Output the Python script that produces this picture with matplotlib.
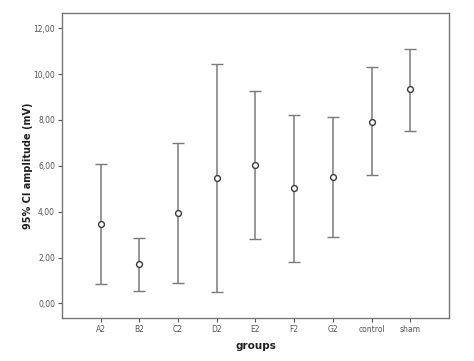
import matplotlib
matplotlib.use("Agg")
import matplotlib.pyplot as plt
import numpy as np

groups = ["A2", "B2", "C2", "D2", "E2", "F2", "G2", "control", "sham"]
means = [3.46, 1.70, 3.93, 5.47, 6.02, 5.02, 5.51, 7.92, 9.34]
upper = [6.08, 2.86, 6.98, 10.45, 9.25, 8.20, 8.13, 10.32, 11.11]
lower = [0.83, 0.55, 0.89, 0.49, 2.82, 1.82, 2.91, 5.60, 7.53]
yticks = [0, 2, 4, 6, 8, 10, 12]

fig = plt.figure(figsize=(4.74, 3.61), dpi=100)
ax = fig.add_axes([0.1308, 0.1191, 0.8162, 0.845])

x = np.arange(len(groups))
m = np.array(means)
yerr = np.vstack([m - np.array(lower), np.array(upper) - m])
ax.errorbar(x, m, yerr=yerr, fmt='o', color='#7a7a7a', ecolor='#7a7a7a',
            elinewidth=1.1, capsize=4, capthick=1.0, markersize=4.2,
            markerfacecolor='white', markeredgecolor='#3a3a3a', markeredgewidth=1.0)

ax.set_xlim(-1, 9)
ax.set_ylim(-0.64, 12.67)
ax.set_xticks(x)
ax.set_xticklabels(groups)
ax.set_yticks(yticks)
ax.set_yticklabels([f"{v:.2f}".replace('.', ',') for v in yticks])
ax.tick_params(axis='both', direction='out', length=3, width=0.8,
               labelsize=5.5, labelcolor='#555555', color='#555555', pad=2)
for s in ax.spines.values():
    s.set_color('#777777')
    s.set_linewidth(1.0)
ax.set_ylabel("95% CI amplitude (mV)", fontsize=7, fontweight='bold', color='#222222', labelpad=0)
ax.set_xlabel("groups", fontsize=7.5, fontweight='bold', color='#222222', labelpad=5)

fig.savefig("out.png", dpi=100)
